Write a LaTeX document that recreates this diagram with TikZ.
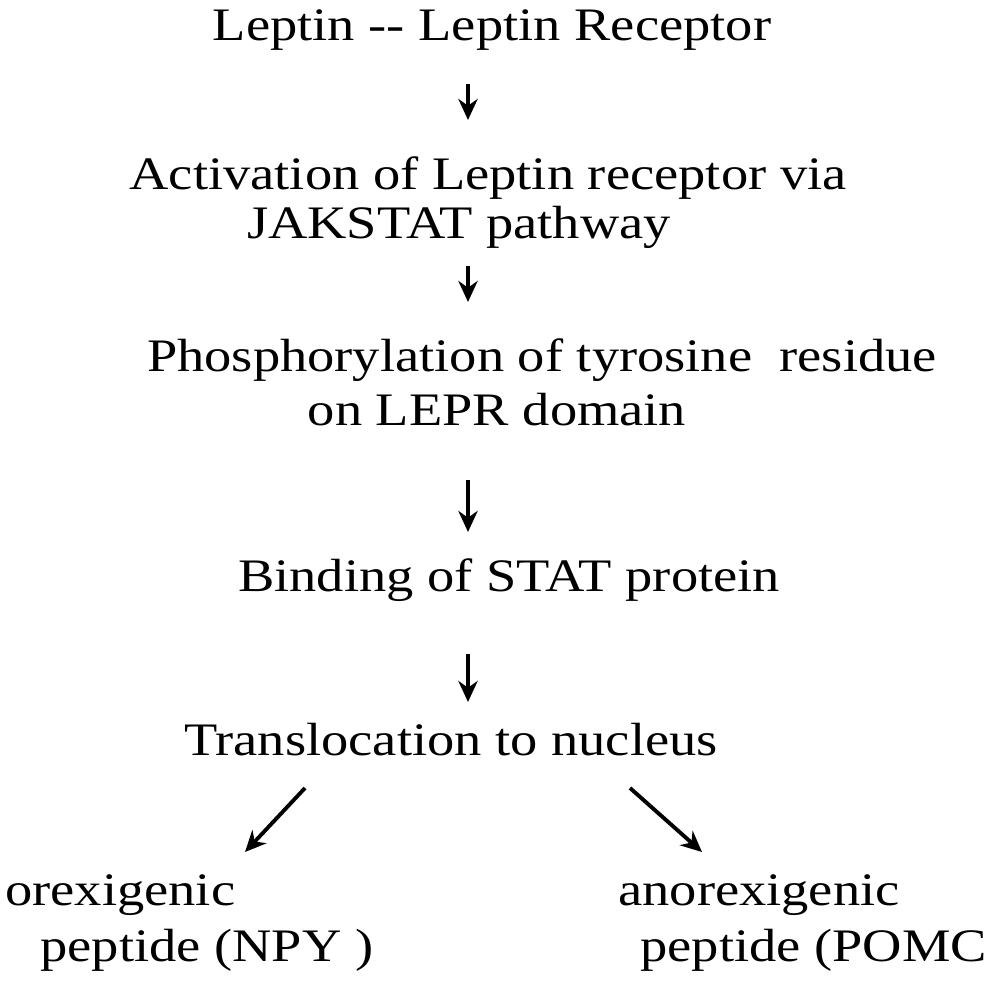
\documentclass[tikz,border=0pt]{standalone}
\usepackage{fontspec}
\setmainfont[FakeStretch=1.17]{Liberation Serif}
\usetikzlibrary{arrows.meta}

\tikzset{
  txt/.style={anchor=center, inner sep=0pt, font=\fontsize{26.5}{30}\selectfont},
  flow/.style={-{Stealth[length=12pt,width=11pt]}, line width=2.2pt}
}

\begin{document}
\begin{tikzpicture}[x=0.02cm, y=-0.02cm]
\useasboundingbox (0,0) rectangle (986,983);

\node[txt] (rec) at (492,30) {Leptin {-}{-} Leptin Receptor};

\node[txt] (act1) at (488,178) {Activation of Leptin receptor via};
\node[txt] (act2) at (459,227) {JAKSTAT pathway};

\node[txt] (pho1) at (542,360) {Phosphorylation of tyrosine\ \ residue};
\node[txt] (pho2) at (497,410) {on LEPR domain};

\node[txt] (bind) at (509,580) {Binding of STAT protein};

\node[txt] (tran) at (451,740) {Translocation to nucleus};

\node[txt, anchor=west] (ore1) at (5,895) {orexigenic};
\node[txt, anchor=west] (ore2) at (40,950) {peptide (NPY )};
\node[txt, anchor=west] (ano1) at (618,895) {anorexigenic};
\node[txt, anchor=west] (ano2) at (640,950) {peptide (POMC)};

% arrow ends
\coordinate (a1) at (468,84);  \coordinate (b1) at (468,120);
\coordinate (a2) at (468,266); \coordinate (b2) at (468,302);
\coordinate (a3) at (468,480); \coordinate (b3) at (468,532);
\coordinate (a4) at (468,654); \coordinate (b4) at (468,702);
\coordinate (a5) at (305,788); \coordinate (b5) at (245,852);
\coordinate (a6) at (630,788); \coordinate (b6) at (702,852);

\draw[flow] (a1) -- (b1);
\draw[flow] (a2) -- (b2);
\draw[flow] (a3) -- (b3);
\draw[flow] (a4) -- (b4);
\draw[flow] (a5) -- (b5);
\draw[flow] (a6) -- (b6);
\end{tikzpicture}
\end{document}
